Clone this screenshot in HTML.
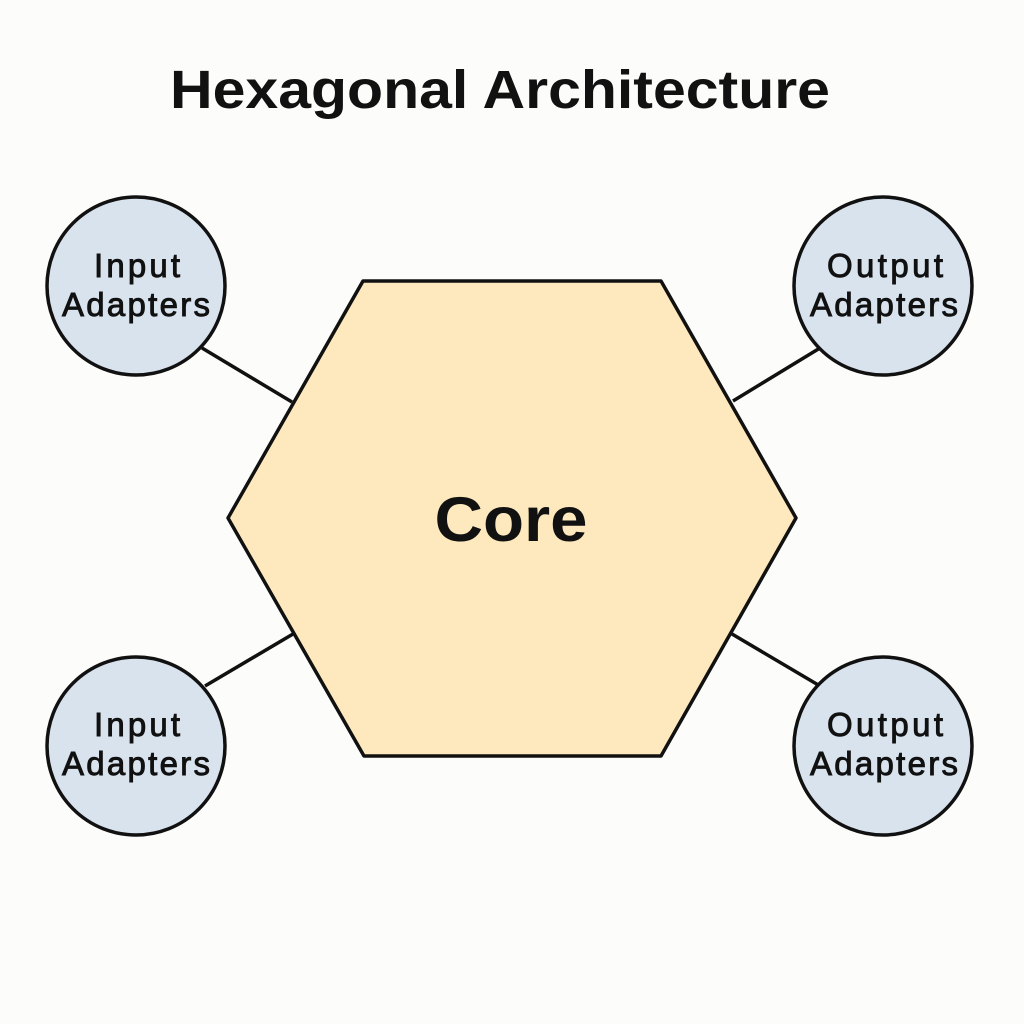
<!DOCTYPE html>
<html><head><meta charset="utf-8"><style>
html,body{margin:0;padding:0;background:#fcfcfb;}
svg{display:block;}
</style></head><body>
<svg width="1024" height="1024" viewBox="0 0 1024 1024" xmlns="http://www.w3.org/2000/svg">
<rect width="1024" height="1024" fill="#fcfcfb"/>
<text x="500" y="108" text-anchor="middle" font-family="Liberation Sans, sans-serif" font-weight="bold" font-size="54" fill="#111" textLength="660" lengthAdjust="spacingAndGlyphs">Hexagonal Architecture</text>
<g stroke="#111" stroke-width="3.5">
<line x1="202" y1="348" x2="292" y2="402"/>
<line x1="733" y1="401" x2="820" y2="348"/>
<line x1="205" y1="686" x2="293" y2="634"/>
<line x1="732" y1="634" x2="820" y2="686"/>
</g>
<polygon points="363,281 661,281 796,518 661,756 364,756 228,518" fill="#fde9bd" stroke="#111" stroke-width="3.5" stroke-linejoin="round"/>
<text x="511" y="541" text-anchor="middle" font-family="Liberation Sans, sans-serif" font-weight="bold" font-size="63" fill="#111" textLength="153" lengthAdjust="spacingAndGlyphs">Core</text>
<g fill="#d8e3ee" stroke="#111" stroke-width="3.5">
<circle cx="136" cy="286" r="89"/>
<circle cx="883" cy="286" r="89"/>
<circle cx="136" cy="746" r="89"/>
<circle cx="883" cy="746" r="89"/>
</g>
<g font-family="Liberation Sans, sans-serif" font-size="33" fill="#111" stroke="#111" stroke-width="0.9" text-anchor="middle" lengthAdjust="spacingAndGlyphs">
<text x="137" y="277" textLength="86">Input</text><text x="136" y="316" textLength="148">Adapters</text>
<text x="885" y="277" textLength="116">Output</text><text x="884" y="316" textLength="148">Adapters</text>
<text x="137" y="736" textLength="86">Input</text><text x="136" y="775" textLength="148">Adapters</text>
<text x="885" y="736" textLength="116">Output</text><text x="884" y="775" textLength="148">Adapters</text>
</g>
</svg>
</body></html>
